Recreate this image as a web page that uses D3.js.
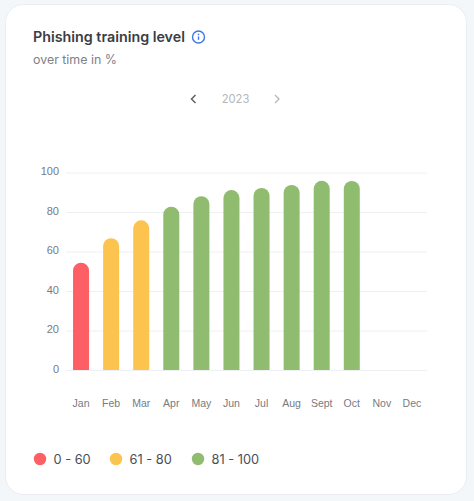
<!DOCTYPE html>
<html>
<head>
<meta charset="utf-8">
<script src="https://cdn.jsdelivr.net/npm/d3@7"></script>
<style>
  html, body { margin: 0; padding: 0; background: #f4f7fa; }
  svg { display: block; font-family: Inter, "Noto Sans", sans-serif; opacity: 0.999; }
</style>
</head>
<body>
<svg id="chart" width="474" height="501"></svg>
<script>
var months = ["Jan", "Feb", "Mar", "Apr", "May", "Jun", "Jul", "Aug", "Sept", "Oct", "Nov", "Dec"];
var levels = [54.3, 66.7, 75.8, 82.7, 88, 91.1, 92.2, 93.7, 95.8, 95.7, null, null];
var yTicks = [0, 20, 40, 60, 80, 100];
var legendLabels = ["0 - 60", "61 - 80", "81 - 100"];
var legendColors = ["#fe5f65", "#fcc34f", "#90bc6f"];
var legendX = [40, 116, 198];

var svg = d3.select("#chart");

// card
svg.append("rect")
    .attr("x", 5.5).attr("y", 4.5)
    .attr("width", 461).attr("height", 490)
    .attr("rx", 18)
    .attr("fill", "#fff")
    .attr("stroke", "#e9edf2");

// header
svg.append("text").attr("x", 33).attr("y", 42)
    .attr("font-size", 14.3).attr("font-weight", 600).attr("fill", "#3a3d45")
    .text("Phishing training level");
svg.append("text").attr("x", 33).attr("y", 64)
    .attr("font-size", 12.4).attr("fill", "#7d8087")
    .text("over time in %");

// info icon
var info = svg.append("g").attr("transform", "translate(198.5,37)");
info.append("circle").attr("r", 6).attr("fill", "none").attr("stroke", "#3f76e4").attr("stroke-width", 1.4);
info.append("line").attr("y1", -0.6).attr("y2", 2.8).attr("stroke", "#3f76e4").attr("stroke-width", 1.4);
info.append("circle").attr("cy", -2.6).attr("r", 0.8).attr("fill", "#3f76e4");

// year switcher
svg.append("path").attr("d", "M195.5,95 L191.5,99 L195.5,103")
    .attr("fill", "none").attr("stroke", "#5c6068").attr("stroke-width", 1.5);
svg.append("text").attr("x", 235.5).attr("y", 103).attr("text-anchor", "middle")
    .attr("font-size", 11.2).attr("fill", "#b4b6bb")
    .text("2023");
svg.append("path").attr("d", "M275,95 L279,99 L275,103")
    .attr("fill", "none").attr("stroke", "#b4b6bb").attr("stroke-width", 1.3);

// scales
var x = d3.scaleBand().domain(months).range([66, 427]);
var y = d3.scaleLinear().domain([0, 100]).range([370, 172.5]);
var barWidth = 16;

function levelColor(v) {
  return v <= 60 ? legendColors[0] : v <= 80 ? legendColors[1] : legendColors[2];
}

// grid + y labels
var yAxis = svg.append("g").attr("transform", "translate(66,0)")
    .call(d3.axisLeft(y).tickValues(yTicks).tickSize(-361).tickPadding(7));
yAxis.select(".domain").remove();
yAxis.selectAll("line").attr("stroke", "#eef0f3");
yAxis.selectAll("text").attr("font-family", "inherit").attr("font-size", 11).attr("fill", "#777a82")
    .attr("dy", "0.22em");

// bars, rounded at the top only
svg.append("g").selectAll("path")
    .data(levels.map(function(v, i) { return {month: months[i], value: v}; })
      .filter(function(d) { return d.value != null; }))
    .enter().append("path")
    .attr("fill", function(d) { return levelColor(d.value); })
    .attr("d", function(d) {
      var l = x(d.month) + x.bandwidth() / 2 - barWidth / 2, r = barWidth / 2;
      var t = y(d.value), b = y(0);
      return "M" + l + "," + b + "V" + (t + r) +
        "A" + r + "," + r + " 0 0 1 " + (l + barWidth) + "," + (t + r) +
        "V" + b + "Z";
    });

// x labels
var xAxis = svg.append("g").attr("transform", "translate(0,370)")
    .call(d3.axisBottom(x).tickSize(0).tickPadding(30));
xAxis.select(".domain").remove();
xAxis.selectAll("text").attr("font-family", "inherit").attr("font-size", 10.5).attr("fill", "#777a82");

// legend
var legend = svg.append("g").selectAll("g")
    .data(legendLabels)
    .enter().append("g")
    .attr("transform", function(d, i) { return "translate(" + legendX[i] + ",459)"; });
legend.append("circle").attr("r", 6.2).attr("fill", function(d, i) { return legendColors[i]; });
legend.append("text").attr("x", 13.5).attr("dy", ".36em")
    .attr("font-size", 12.8).attr("fill", "#4a4d55")
    .text(function(d) { return d; });
</script>
</body>
</html>
